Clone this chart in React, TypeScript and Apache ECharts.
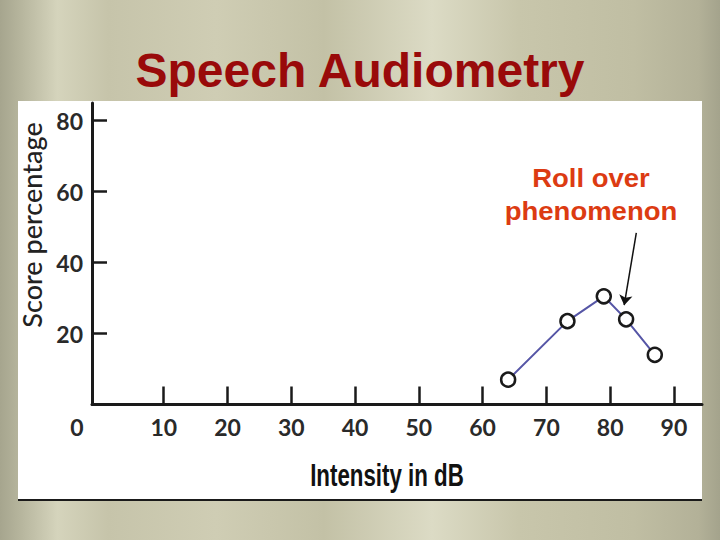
import React, { useEffect, useRef } from "react";
import * as echarts from "echarts";

const titleText = "Speech Audiometry";
const annotationLines = ["Roll over", "phenomenon"];
const xAxisName = "Intensity in dB";
const yAxisName = "Score percentage";
const xTickValues = [10, 20, 30, 40, 50, 60, 70, 80, 90];
const yTickValues = [20, 40, 60, 80];
const originLabel = "0";
const intensityDb = [64, 73.3, 79, 82.5, 87];
const scorePct = [7, 23.5, 30.5, 24, 14];
const arrowFrom = [84.1, 48.4];
const arrowTo = [82.2, 28.0];

const axisFont = "Lato, 'Noto Sans', 'DejaVu Sans', sans-serif";

export default function App() {
  const ref = useRef<HTMLDivElement>(null);
  useEffect(() => {
    document.body.style.margin = "0";
    const chart = echarts.init(ref.current!, null, { renderer: "svg" });
    const points = intensityDb.map((x, i) => [x, scorePct[i]]);
    const centered = {
      align: "center",
      verticalAlign: "middle",
      textAlign: "center",
      textVerticalAlign: "middle",
    };
    chart.setOption({
      animation: false,
      title: {
        text: titleText,
        left: "center",
        top: 41,
        textStyle: {
          fontFamily: "'Liberation Sans', Arial, sans-serif",
          fontSize: 48,
          fontWeight: "bold",
          color: "#990a0a",
        },
      },
      graphic: [
        {
          type: "rect",
          z: -10,
          silent: true,
          shape: { x: 0, y: 0, width: 720, height: 540 },
          style: {
            fill: {
              type: "linear",
              x: 0,
              y: 0,
              x2: 1,
              y2: 0,
              colorStops: [
                { offset: 0, color: "#a6a58e" },
                { offset: 0.03, color: "#b7b69e" },
                { offset: 0.08, color: "#d5d4bc" },
                { offset: 0.15, color: "#c6c4aa" },
                { offset: 0.3, color: "#cfcdb4" },
                { offset: 0.45, color: "#c3c1a6" },
                { offset: 0.6, color: "#dcdbc5" },
                { offset: 0.72, color: "#c8c6ab" },
                { offset: 0.88, color: "#c0bea3" },
                { offset: 0.97, color: "#b3b198" },
                { offset: 1, color: "#a4a38c" },
              ],
            },
          },
        },
        {
          type: "rect",
          z: -9,
          silent: true,
          shape: { x: 18, y: 101, width: 684, height: 399 },
          style: { fill: "#ffffff" },
        },
        {
          type: "line",
          z: -8,
          silent: true,
          shape: { x1: 18, y1: 500, x2: 702, y2: 500 },
          style: { stroke: "#1a1a1a", lineWidth: 2 },
        },
        {
          type: "text",
          z: 10,
          x: 77,
          y: 427,
          style: {
            text: originLabel,
            fontFamily: axisFont,
            fontSize: 23,
            fontWeight: "bold",
            fill: "#2a2a2a",
            ...centered,
          },
        },
        {
          type: "text",
          z: 10,
          x: 387,
          y: 476,
          scaleX: 0.72,
          style: {
            text: xAxisName,
            x: 0,
            y: 0,
            fontFamily: "'Liberation Sans', Arial, sans-serif",
            fontSize: 31,
            fontWeight: "bold",
            fill: "#111",
            ...centered,
          },
        },
        {
          type: "text",
          z: 10,
          x: 31,
          y: 225,
          rotation: Math.PI / 2,
          style: {
            text: yAxisName,
            x: 0,
            y: 0,
            fontFamily: axisFont,
            fontSize: 27,
            fontWeight: 500,
            fill: "#222",
            ...centered,
          },
        },
        ...annotationLines.map((t, i) => ({
          type: "text",
          z: 10,
          x: 591,
          y: 178 + i * 33,
          scaleX: 1.1,
          style: {
            text: t,
            x: 0,
            y: 0,
            fontFamily: "'Liberation Sans', Arial, sans-serif",
            fontSize: 25,
            fontWeight: "bold",
            fill: "#dc3b12",
            ...centered,
          },
        })),
      ],
      grid: { left: 92, right: 18, top: 103, bottom: 135.5, containLabel: false },
      xAxis: {
        type: "value",
        min: -1.25,
        max: 94.4,
        splitLine: { show: false },
        axisLine: { show: true, onZero: false, lineStyle: { color: "#1a1a1a", width: 3 } },
        axisTick: {
          show: true,
          inside: true,
          length: 18,
          customValues: xTickValues,
          lineStyle: { color: "#1a1a1a", width: 2.5 },
        },
        axisLabel: {
          customValues: xTickValues,
          margin: 11,
          fontFamily: axisFont,
          fontSize: 23,
          fontWeight: "bold",
          color: "#2a2a2a",
        },
      },
      yAxis: {
        type: "value",
        min: 0,
        max: 85,
        splitLine: { show: false },
        axisLine: { show: true, onZero: false, lineStyle: { color: "#1a1a1a", width: 3 } },
        axisTick: {
          show: true,
          inside: true,
          length: 15,
          customValues: yTickValues,
          lineStyle: { color: "#1a1a1a", width: 2.5 },
        },
        axisLabel: {
          customValues: yTickValues,
          margin: 9,
          fontFamily: axisFont,
          fontSize: 23,
          fontWeight: "bold",
          color: "#2a2a2a",
        },
      },
      series: [
        {
          type: "line",
          name: yAxisName,
          data: points,
          symbol: "circle",
          symbolSize: 14,
          lineStyle: { color: "#5656a6", width: 2 },
          itemStyle: { color: "#ffffff", borderColor: "#1a1a1a", borderWidth: 2.5 },
          markLine: {
            silent: true,
            symbol: ["none", "arrow"],
            symbolSize: 10,
            label: { show: false },
            lineStyle: { color: "#111", width: 1.5, type: "solid" },
            data: [[{ coord: arrowFrom }, { coord: arrowTo }]],
          },
        },
      ],
    });
    return () => chart.dispose();
  }, []);
  return (
    <div
      ref={ref}
      style={{ position: "absolute", left: 0, top: 0, width: 720, height: 540 }}
    />
  );
}
